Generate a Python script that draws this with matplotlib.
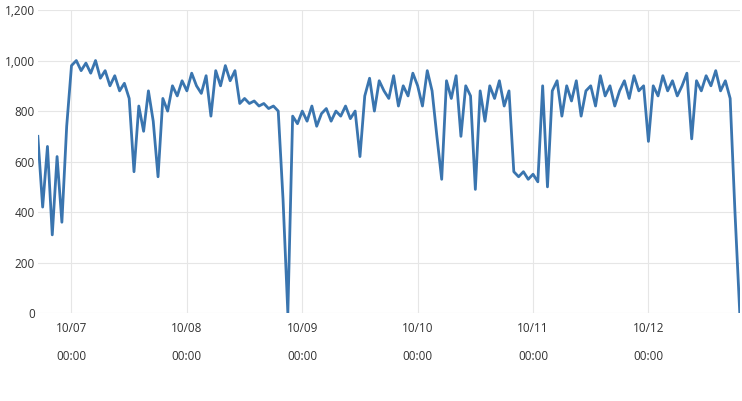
import matplotlib.pyplot as plt
import matplotlib.dates as mdates
import pandas as pd

# hourly readings, starting 10/06 17:00
d06 = [700, 420, 660, 310, 620, 360, 740]
d07 = [980, 1000, 960, 990, 950, 1000, 930, 960, 900, 940, 880, 910,
       850, 560, 820, 720, 880, 760, 540, 850, 800, 900, 860, 920]
d08 = [880, 950, 900, 870, 940, 780, 960, 900, 980, 920, 960, 830,
       850, 830, 840, 820, 830, 810, 820, 800, 450, 0, 780, 750]
d09 = [800, 760, 820, 740, 790, 810, 760, 800, 780, 820, 770, 800,
       620, 860, 930, 800, 920, 880, 850, 940, 820, 900, 860, 950]
d10 = [900, 820, 960, 880, 700, 530, 920, 850, 940, 700, 900, 860,
       490, 880, 760, 900, 850, 920, 820, 880, 560, 540, 560, 530]
d11 = [550, 520, 900, 500, 880, 920, 780, 900, 840, 920, 780, 880,
       900, 820, 940, 860, 900, 820, 880, 920, 850, 940, 880, 900]
d12 = [680, 900, 860, 940, 880, 920, 860, 900, 950, 690, 920, 880,
       940, 900, 960, 880, 920, 850, 400, 0]

values = d06 + d07 + d08 + d09 + d10 + d11 + d12
times = pd.date_range("2023-10-06 17:00", periods=len(values), freq="h")

plt.rcParams["font.family"] = ["Open Sans", "DejaVu Sans"]
fig = plt.figure(figsize=(7.42, 4.01), dpi=100)
ax = fig.add_axes([0.051, 0.219, 0.946, 0.756])

ax.plot(times, values, color="#3A75AF", lw=2)

ax.set_xlim(times[0], times[-1])
ax.set_ylim(0, 1200)
ax.set_yticks(range(0, 1201, 200))
ax.set_yticklabels([f"{v:,}" for v in range(0, 1201, 200)])
ax.xaxis.set_major_locator(mdates.DayLocator())
ax.xaxis.set_major_formatter(mdates.DateFormatter("%m/%d\n\n%H:%M"))

ax.grid(True, color="#e6e6e6", lw=0.8)
for s in ax.spines.values():
    s.set_visible(False)
ax.tick_params(length=0, labelsize=8.5, colors="#333333")
ax.tick_params(axis="y", pad=2)
ax.tick_params(axis="x", pad=6)
for t in ax.get_xticklabels():
    t.set_linespacing(1.1)

fig.savefig("out.png", dpi=100)
